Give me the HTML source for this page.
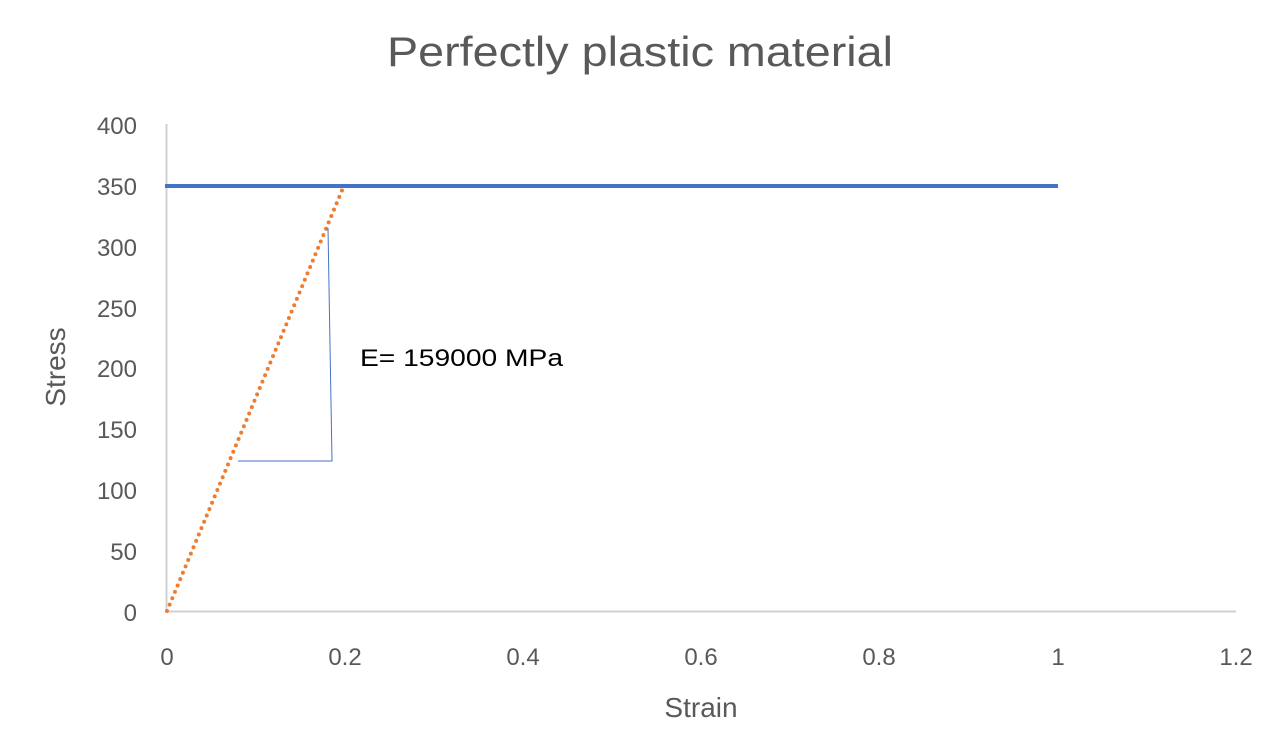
<!DOCTYPE html>
<html><head><style>body{margin:0;background:#fff}</style></head><body>
<svg width="1273" height="748" xmlns="http://www.w3.org/2000/svg" font-family="Liberation Sans, sans-serif">
<rect width="1273" height="748" fill="#fff"/>
<text x="387" y="66" textLength="506" lengthAdjust="spacingAndGlyphs" font-size="42" fill="#595959">Perfectly plastic material</text>
<line x1="166.5" y1="124" x2="166.5" y2="612" stroke="#d0d0d0" stroke-width="2"/>
<line x1="165" y1="611.5" x2="1236" y2="611.5" stroke="#d0d0d0" stroke-width="2"/>
<g font-size="24" fill="#595959" text-anchor="end">
<text x="137" y="621">0</text><text x="137" y="560">50</text><text x="137" y="499">100</text><text x="137" y="438">150</text><text x="137" y="377">200</text><text x="137" y="317">250</text><text x="137" y="256">300</text><text x="137" y="195">350</text><text x="137" y="134">400</text>
</g>
<g font-size="24" fill="#595959" text-anchor="middle">
<text x="167" y="665">0</text><text x="345" y="665">0.2</text><text x="523" y="665">0.4</text><text x="701" y="665">0.6</text><text x="879" y="665">0.8</text><text x="1058" y="665">1</text><text x="1236" y="665">1.2</text>
</g>
<text x="701" y="717" text-anchor="middle" font-size="28" fill="#595959">Strain</text>
<text transform="translate(65,367) rotate(-90)" text-anchor="middle" font-size="28" fill="#595959">Stress</text>
<line x1="165" y1="186" x2="1058" y2="186" stroke="#4472C4" stroke-width="4"/>
<line x1="167" y1="611" x2="343" y2="188" stroke="#ED7D31" stroke-width="4" stroke-dasharray="0 6.9" stroke-linecap="round"/>
<polyline points="328,228 332,461 238,461" fill="none" stroke="#4472C4" stroke-width="1"/>
<text x="360" y="366" textLength="203" lengthAdjust="spacingAndGlyphs" font-size="24" fill="#000">E= 159000 MPa</text>
</svg>
</body></html>
